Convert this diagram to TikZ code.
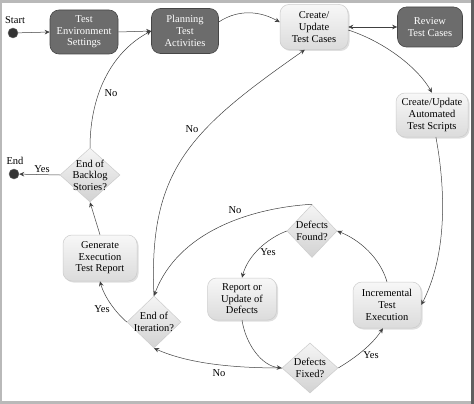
\documentclass[tikz,border=0pt]{standalone}
\usepackage{fontspec}
\setmainfont{Liberation Serif}
\usetikzlibrary{shapes.geometric,arrows.meta,shadows}
\begin{document}
\begin{tikzpicture}[x=1pt,y=-1pt,
  txt/.style={font=\fontsize{10.5}{11.6}\selectfont, align=center, inner sep=0pt},
  darkbox/.style={rounded corners=9pt, fill={rgb,255:red,108;green,108;blue,108}, draw={rgb,255:red,70;green,70;blue,70}, line width=0.6pt, text=white, txt},
  lightbox/.style={rounded corners=9pt, top color=gray!6, bottom color=gray!28, draw=gray!40, line width=0.5pt, txt,
     drop shadow={shadow xshift=1.5pt, shadow yshift=-1.5pt, opacity=0.25, fill=gray}},
  decision/.style={diamond, inner sep=0pt, top color=gray!8, bottom color=gray!35, draw=gray!40, line width=0.5pt},
  dot/.style={circle, fill=black!80, draw=black!60, minimum size=10pt, inner sep=0pt},
  arr/.style={draw=black!75, line width=0.5pt, -{Stealth[length=5pt,width=4.5pt]}},
  lbl/.style={font=\fontsize{10.5}{11.6}\selectfont, inner sep=0pt}
]
\useasboundingbox (0,0) rectangle (474,404);
\fill[gray!55] (0,0) rectangle (474,404);
\fill[white] (2,3) rectangle (471,401);
\fill[gray!75!black] (471,0) rectangle (474,404);

% terminals
\node[dot] (start) at (13,33) {};
\node[lbl] (startlbl) at (15,20) {Start};
\node[dot] (end) at (14,174) {};
\node[lbl] (endlbl) at (15,161) {End};

% boxes
\node[darkbox, minimum width=68pt, minimum height=44pt] (tes) at (84,32) {Test\\Environment\\Settings};
\node[darkbox, minimum width=67pt, minimum height=45pt] (pta) at (185,31) {Planning\\Test\\Activities};
\node[lightbox, minimum width=68pt, minimum height=45pt] (cutc) at (314,27) {Create/\\Update\\Test Cases};
\node[darkbox, minimum width=65pt, minimum height=40pt] (rtc) at (430,27) {Review\\Test Cases};
\node[lightbox, minimum width=72pt, minimum height=44pt] (cuats) at (432,115) {Create/Update\\Automated\\Test Scripts};
\node[lightbox, minimum width=74pt, minimum height=46pt] (gr) at (100,258) {Generate\\Execution\\Test Report};
\node[lightbox, minimum width=69pt, minimum height=42pt] (rud) at (242,299) {Report or\\Update of\\Defects};
\node[lightbox, minimum width=68pt, minimum height=46pt] (ite) at (387,305) {Incremental\\Test\\Execution};

% decisions
\node[decision, minimum width=60pt, minimum height=54pt] (eb) at (90,175) {};
\node[txt] (ebt) at (eb) {End of\\Backlog\\Stories?};
\node[decision, minimum width=54pt, minimum height=52pt] (ei) at (154,322) {};
\node[txt] (eit) at (ei) {End of\\Iteration?};
\node[decision, minimum width=50pt, minimum height=53pt] (df) at (312,231) {};
\node[txt] (dft) at (df) {Defects\\Found?};
\node[decision, minimum width=56pt, minimum height=50pt] (dfx) at (310,368) {};
\node[txt] (dfxt) at (dfx) {Defects\\Fixed?};

% connectors
\draw[arr] (start) -- (tes.west);
\draw[arr] (tes.east) -- (pta.west);
\draw[arr] (pta.15) .. controls (240,8) and (262,12) .. (cutc.172);
\draw[arr, {Stealth[length=5pt,width=4.5pt]}-{Stealth[length=5pt,width=4.5pt]}] (cutc.east) -- (rtc.west);
\draw[arr] (cutc.-5) .. controls (385,42) and (418,68) .. (cuats.north);
\draw[arr] (cuats.-80) .. controls (442,170) and (452,245) .. (ite.east);
\draw[arr] (ite.north) .. controls (380,258) and (360,240) .. (df.east);
\draw[arr] (df.west) .. controls (268,238) and (248,255) .. (rud.north);
\draw[arr] (df.north) .. controls (250,208) and (178,232) .. (ei.north);
\draw[arr] (ei.north) .. controls (148,170) and (190,130) .. (cutc.-112);
\draw[arr] (eb.north) .. controls (90,90) and (115,50) .. (pta.west);
\draw[arr] (gr.north) -- (eb.south);
\draw[arr] (eb.west) -- (end);
\draw[arr] (ei.west) .. controls (115,312) and (104,296) .. (gr.south);
\draw[arr] (dfx.west) .. controls (225,368) and (185,362) .. (ei.south);
\draw[arr] (rud.south) .. controls (246,345) and (262,366) .. (dfx.west);
\draw[arr] (dfx.east) .. controls (355,358) and (372,345) .. (ite.-100);

% labels
\node[lbl] (l1) at (111,93) {No};
\node[lbl] (l2) at (192,129) {No};
\node[lbl] (l3) at (42,169) {Yes};
\node[lbl] (l4) at (235,210) {No};
\node[lbl] (l5) at (268,252) {Yes};
\node[lbl] (l6) at (102,309) {Yes};
\node[lbl] (l7) at (219,373) {No};
\node[lbl] (l8) at (371,355) {Yes};
\end{tikzpicture}
\end{document}
